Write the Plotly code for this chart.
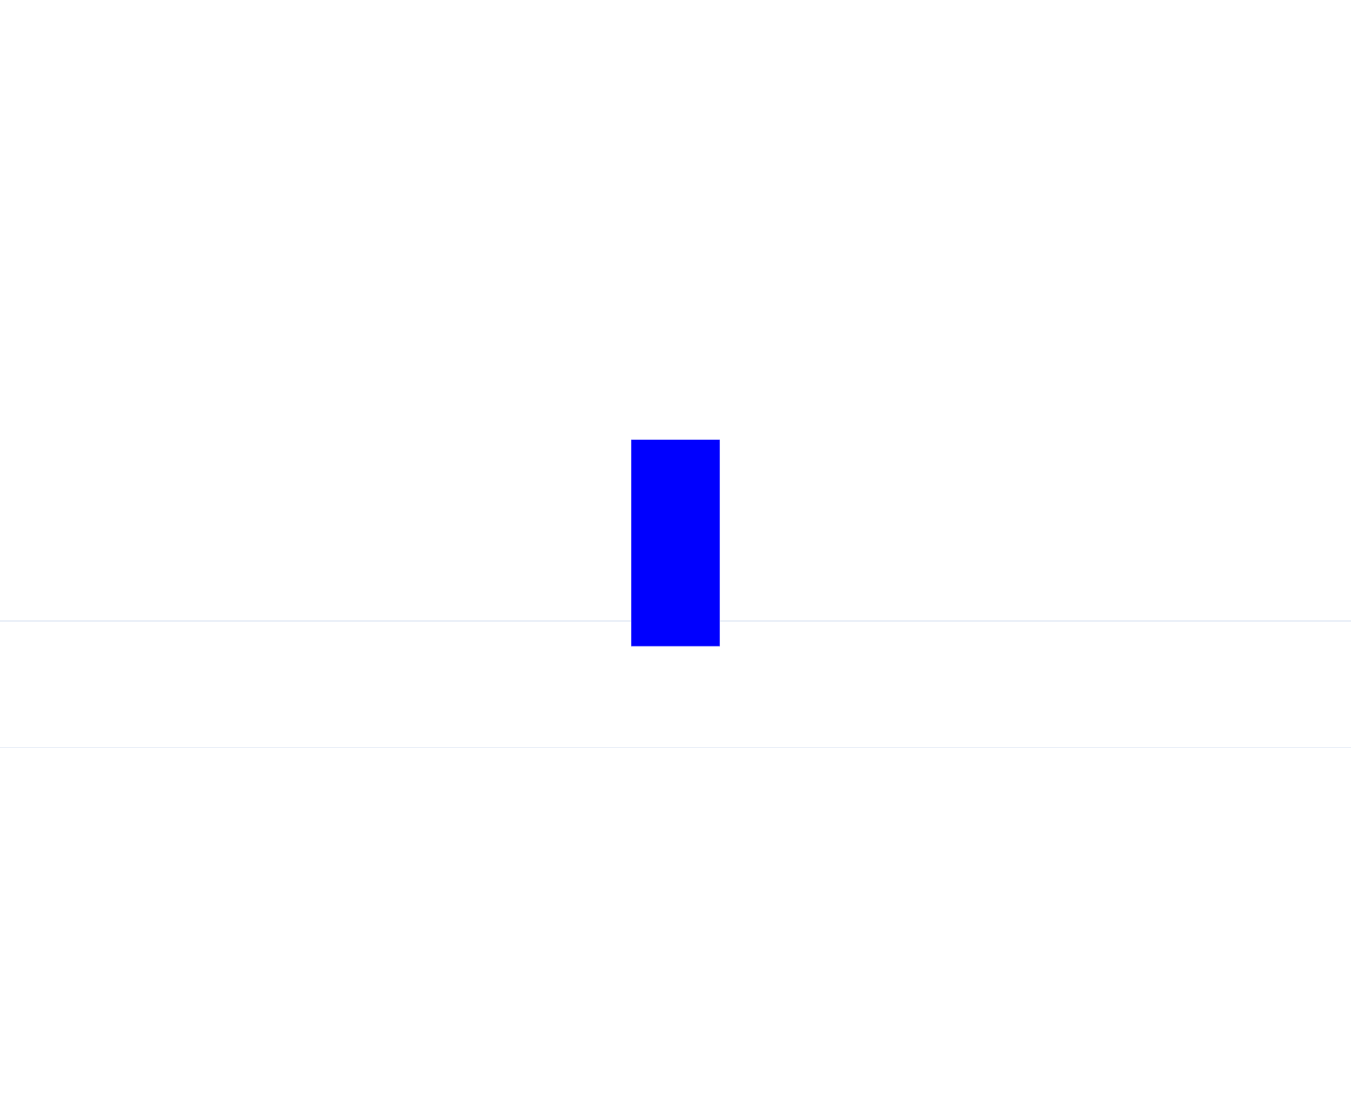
import plotly.graph_objects as go

# single category, bar runs from a small negative base up to its top
categories = ["A"]
bar_base = [-2.0]
bar_height = [16.3]
grid_values = [-10, 0]

fig = go.Figure()

fig.add_trace(
    go.Bar(
        x=categories,
        y=bar_height,
        base=bar_base,
        marker_color="#0000FF",
        showlegend=False,
    )
)

fig.update_layout(
    template="plotly_white",
    width=1351,
    height=1116,
    margin=dict(l=0, r=0, t=0, b=0),
    plot_bgcolor="white",
    paper_bgcolor="white",
)

fig.update_xaxes(range=[-6.07, 6.07], showticklabels=False, showgrid=False)
fig.update_yaxes(
    range=[-38.98, 48.9],
    tickvals=grid_values,
    showticklabels=False,
)

# drop the browser's default body margin so the plot sits flush in the window
fig.write_html(
    "out.html",
    config={"displayModeBar": False},
    post_script="document.body.style.margin = '0';",
)
